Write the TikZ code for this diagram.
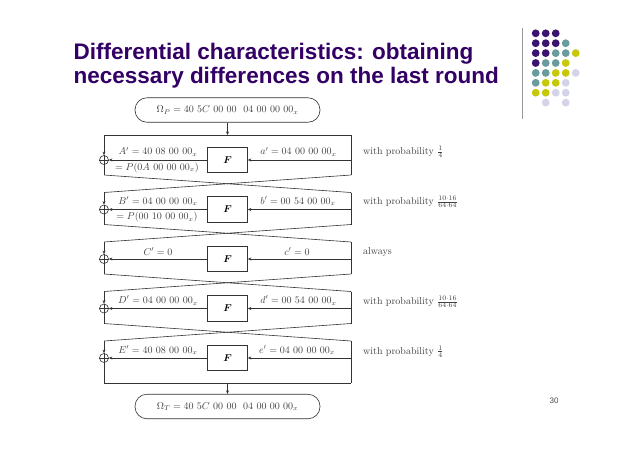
\documentclass[tikz,border=0pt]{standalone}
\usepackage{fontspec}
\usepackage{amsmath}
\newfontfamily\titlefont{Liberation Sans}
\usetikzlibrary{arrows.meta}
\definecolor{ttl}{HTML}{330066}
\definecolor{dP}{HTML}{3B1470}
\definecolor{dT}{HTML}{6A9C9E}
\definecolor{dY}{HTML}{C8C80A}
\definecolor{dL}{HTML}{D4D4E8}
\definecolor{lncol}{HTML}{333333}
\tikzset{
  wire/.style={draw=lncol, line width=0.6pt},
  arr/.style={draw=lncol, line width=0.6pt, -{Stealth[length=3.6pt,width=3pt]}},
  fboxx/.style={draw=lncol, line width=1pt, minimum width=39.5pt, minimum height=25.5pt, inner sep=0pt},
  xorn/.style={draw=lncol, line width=0.6pt, circle, minimum size=9pt, inner sep=0pt},
  omg/.style={draw=lncol, line width=0.6pt, rounded corners=12pt, minimum width=185pt, minimum height=24.5pt, inner sep=0pt},
  lbl/.style={text=black!75, inner sep=0pt, font=\fontsize{10}{12}\selectfont},
  ttltext/.style={text=ttl, inner sep=0pt, anchor=base west, font=\titlefont\bfseries\fontsize{22.5}{27}\selectfont}
}
\begin{document}
\begin{tikzpicture}[x=1pt,y=-1pt]
\useasboundingbox[fill=white] (0,0) rectangle (638,451);
% title
\node[ttltext] (t1) at (73.5,59) {Differential characteristics: obtaining};
\node[ttltext] (t2) at (73.5,83) {necessary differences on the last round};
% decorative line and dots
\draw[black!40, line width=0.8pt] (522,28) -- (522,119);
\foreach \c/\r/\cc in {1/1/P,2/1/P,3/1/P,
  1/2/P,2/2/P,3/2/P,4/2/T,
  1/3/P,2/3/P,3/3/T,4/3/T,5/3/Y,
  1/4/P,2/4/T,3/4/T,4/4/Y,
  1/5/T,2/5/T,3/5/Y,4/5/Y,5/5/L,
  1/6/T,2/6/Y,3/6/Y,4/6/L,
  1/7/Y,2/7/Y,3/7/L,4/7/L,
  2/8/L,4/8/L}{
  \fill[d\cc] ({535.7+10*(\c-1)},{33.3+9.9*(\r-1)}) circle (3.9);
}
% page number
\node[text=black!70, font=\titlefont\fontsize{8}{10}\selectfont, inner sep=0pt] (pg) at (554,401) {30};
% Omega boxes
\node[omg] (OP) at (227.5,110) {\fontsize{10}{12}\selectfont\color{black!75}$\Omega_P=40\ 5C\ 00\ 00\ \ 04\ 00\ 00\ 00_x$};
\node[omg] (OT) at (227.5,406.5) {\fontsize{10}{12}\selectfont\color{black!75}$\Omega_T=40\ 5C\ 00\ 00\ \ 04\ 00\ 00\ 00_x$};
% F boxes
\node[fboxx] (F1) at (227.5,160) {$\boldsymbol{F}$};
\node[fboxx] (F2) at (227.5,209.5) {$\boldsymbol{F}$};
\node[fboxx] (F3) at (227.5,259) {$\boldsymbol{F}$};
\node[fboxx] (F4) at (227.5,308.5) {$\boldsymbol{F}$};
\node[fboxx] (F5) at (227.5,358) {$\boldsymbol{F}$};
% XOR nodes
\node[xorn] (X1) at (104,160) {};
\node[xorn] (X2) at (104,209.5) {};
\node[xorn] (X3) at (104,259) {};
\node[xorn] (X4) at (104,308.5) {};
\node[xorn] (X5) at (104,358) {};
\draw[wire] (X1.north) -- (X1.south) (X1.west) -- (X1.east);
\draw[wire] (X2.north) -- (X2.south) (X2.west) -- (X2.east);
\draw[wire] (X3.north) -- (X3.south) (X3.west) -- (X3.east);
\draw[wire] (X4.north) -- (X4.south) (X4.west) -- (X4.east);
\draw[wire] (X5.north) -- (X5.south) (X5.west) -- (X5.east);
% coordinates
\coordinate (R1) at (351,160);
\coordinate (R2) at (351,209.5);
\coordinate (R3) at (351,259);
\coordinate (R4) at (351,308.5);
\coordinate (R5) at (351,358);
\coordinate (LT1) at (104,135);   \coordinate (RT1) at (351,135);
\coordinate (LB1) at (104,175);   \coordinate (RB1) at (351,175);
\coordinate (LT2) at (104,192.5); \coordinate (RT2) at (351,192.5);
\coordinate (LB2) at (104,224.5); \coordinate (RB2) at (351,224.5);
\coordinate (LT3) at (104,242);   \coordinate (RT3) at (351,242);
\coordinate (LB3) at (104,274);   \coordinate (RB3) at (351,274);
\coordinate (LT4) at (104,291.5); \coordinate (RT4) at (351,291.5);
\coordinate (LB4) at (104,323.5); \coordinate (RB4) at (351,323.5);
\coordinate (LT5) at (104,341);   \coordinate (RT5) at (351,341);
\coordinate (LB5) at (104,383);   \coordinate (RB5) at (351,383);
% round connectors
\draw[arr] (R1) -- (F1.east);
\draw[arr] (R2) -- (F2.east);
\draw[arr] (R3) -- (F3.east);
\draw[arr] (R4) -- (F4.east);
\draw[arr] (R5) -- (F5.east);
\draw[arr] (F1.west) -- (X1.east);
\draw[arr] (F2.west) -- (X2.east);
\draw[arr] (F3.west) -- (X3.east);
\draw[arr] (F4.west) -- (X4.east);
\draw[arr] (F5.west) -- (X5.east);
\draw[arr] (LT1) -- (X1.north);
\draw[arr] (LT2) -- (X2.north);
\draw[arr] (LT3) -- (X3.north);
\draw[arr] (LT4) -- (X4.north);
\draw[arr] (LT5) -- (X5.north);
\draw[wire] (X1.south) -- (LB1);
\draw[wire] (X2.south) -- (LB2);
\draw[wire] (X3.south) -- (LB3);
\draw[wire] (X4.south) -- (LB4);
\draw[wire] (X5.south) -- (LB5);
\draw[wire] (RT1) -- (RB1);
\draw[wire] (RT2) -- (RB2);
\draw[wire] (RT3) -- (RB3);
\draw[wire] (RT4) -- (RB4);
\draw[wire] (RT5) -- (RB5);
% crossings
\draw[wire] (LB1) -- (RT2);  \draw[wire] (RB1) -- (LT2);
\draw[wire] (LB2) -- (RT3);  \draw[wire] (RB2) -- (LT3);
\draw[wire] (LB3) -- (RT4);  \draw[wire] (RB3) -- (LT4);
\draw[wire] (LB4) -- (RT5);  \draw[wire] (RB4) -- (LT5);
\draw[wire] (LT1) -- (RT1);
\draw[wire] (LB5) -- (RB5);
\coordinate (top) at (227.5,135);
\coordinate (bot) at (227.5,383);
\draw[arr] (OP.south) -- (top);
\draw[arr] (bot) -- (OT.north);
% labels
\node[lbl] (la) at (158,151.7) {$A'=40\ 08\ 00\ 00_x$};
\node[lbl] (lap) at (157,167.5) {$=P(0A\ 00\ 00\ 00_x)$};
\node[lbl] (ra) at (298.5,151.7) {$a'=04\ 00\ 00\ 00_x$};
\node[lbl] (lb) at (158,201.2) {$B'=04\ 00\ 00\ 00_x$};
\node[lbl] (lbp) at (157,217) {$=P(00\ 10\ 00\ 00_x)$};
\node[lbl] (rb) at (298,201.2) {$b'=00\ 54\ 00\ 00_x$};
\node[lbl] (lc) at (158,251.5) {$C'=0$};
\node[lbl] (rc) at (297,251.5) {$c'=0$};
\node[lbl] (ld) at (158,300.5) {$D'=04\ 00\ 00\ 00_x$};
\node[lbl] (rd) at (298.5,300.5) {$d'=00\ 54\ 00\ 00_x$};
\node[lbl] (le) at (158,350) {$E'=40\ 08\ 00\ 00_x$};
\node[lbl] (re) at (297,350) {$e'=04\ 00\ 00\ 00_x$};
% probabilities
\node[lbl, anchor=west] (p1) at (363,152) {with probability $\frac14$};
\node[lbl, anchor=west] (p2) at (363,202) {with probability $\frac{10\cdot16}{64\cdot64}$};
\node[lbl, anchor=west] (p3) at (363,252.5) {always};
\node[lbl, anchor=west] (p4) at (363,302) {with probability $\frac{10\cdot16}{64\cdot64}$};
\node[lbl, anchor=west] (p5) at (363,351.5) {with probability $\frac14$};
\end{tikzpicture}
\end{document}
